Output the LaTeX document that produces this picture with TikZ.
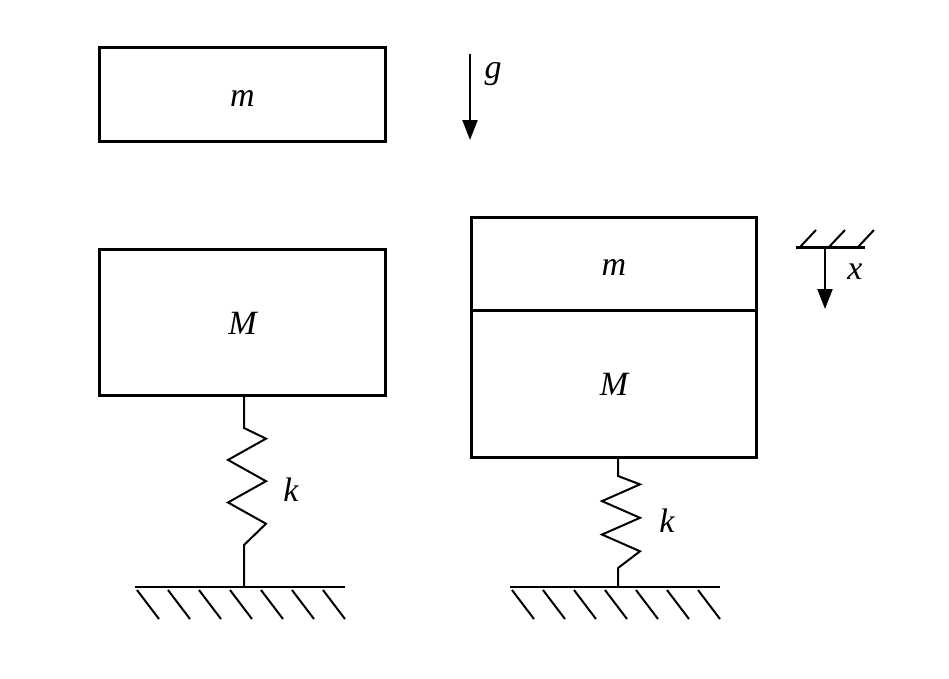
\documentclass[tikz,border=0pt]{standalone}
\usepackage{fontspec}
\setmainfont{Liberation Serif}
\usetikzlibrary{positioning,arrows.meta}

\tikzset{
  block/.style={draw, line width=3pt, inner sep=0pt},
  lbl/.style={font=\fontsize{34}{36}\selectfont\itshape},
  thin/.style={line width=2pt},
  arr/.style={line width=2.2pt, -{Triangle[length=20pt,width=15pt]}}
}

% spring at x=#1: lead from #2, coils from #3 to #4, lead to #5
\newcommand{\zigspring}[5]{%
  \pgfmathsetmacro{\dd}{(#4-#3)/5.5}
  \draw[thin] (#1,#2) -- (#1,#3)
    \foreach \i in {0,...,4}{ -- ({#1+(\ifodd\i -16\else 22\fi)},{#3+\dd*(0.5+\i)})}
    -- (#1,#4) -- (#1,#5);
}
\newcommand{\groundline}[3]{%
  \draw[thin] (#1,#3) -- (#2,#3);
  \foreach \h in {0,...,6}
    \draw[thin] ({#1+2+31*\h},{#3+3}) -- ++(22,29);
}

\begin{document}
\begin{tikzpicture}[x=1pt,y=-1pt]
\useasboundingbox (0,0) rectangle (949,678);

% left: separated masses
\node[block, minimum width=286pt, minimum height=94pt, anchor=north west] (mtop) at (98,46) {};
\node[lbl] at ([yshift=-4pt]mtop.center) {m};
\coordinate (gstart) at (470,54);
\coordinate (gend) at (470,140);
\draw[arr] (gstart) -- (gend);
\node[lbl, anchor=west] at (481,74) {g};

\node[block, minimum width=286pt, minimum height=146pt, anchor=north west] (Mleft) at (98,248) {};
\node[lbl] at ([yshift=-1pt]Mleft.center) {M};
\zigspring{244}{394}{428}{545}{587}
\node[lbl] at (291,490) {k};
\groundline{135}{345}{587}

% right: combined masses
\node[block, minimum width=285pt, minimum height=93pt, anchor=north west] (mright) at (470,216) {};
\node[lbl] at ([yshift=-3pt]mright.center) {m};
\node[block, minimum width=285pt, minimum height=147pt, anchor=north west] (Mright) at (470,309) {};
\node[lbl] at (Mright.center) {M};
\zigspring{618}{456}{476}{568}{587}
\node[lbl] at (667,521) {k};
\groundline{510}{720}{587}

% reference for x
\coordinate (xa) at (796,247);
\coordinate (xb) at (865,247);
\draw[line width=3pt] (xa) -- (xb);
\foreach \h in {0,1,2}
  \draw[thin] ({800+29*\h},247) -- ++(16,-17);
\coordinate (xend) at (825,309);
\draw[arr] (825,247) -- (xend);
\node[lbl] at (855,272) {x};
\end{tikzpicture}
\end{document}
